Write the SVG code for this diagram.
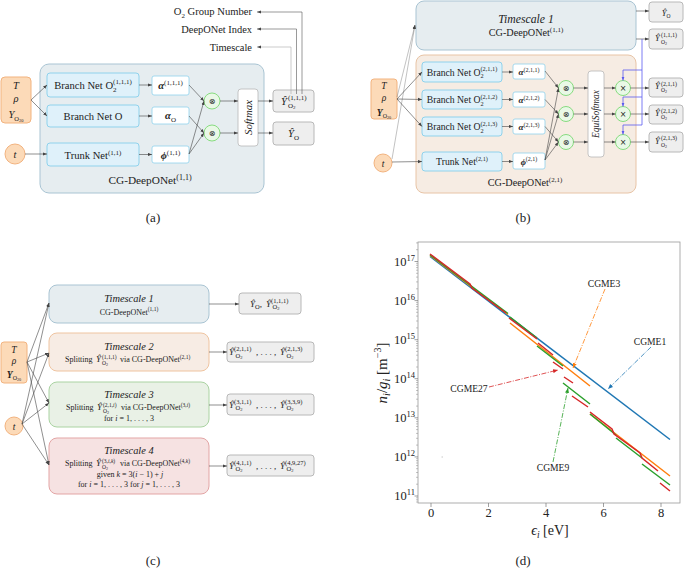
<svg xmlns="http://www.w3.org/2000/svg" width="685" height="569" viewBox="0 0 685 569">
<defs>
<style>
text{font-family:"Liberation Serif","DejaVu Serif",serif;fill:#222}
.c{text-anchor:middle}
.e{text-anchor:end}
.i{font-style:italic}
.bi{font-style:italic;font-weight:bold}
.cont{fill:#e6edf0;stroke:#a9c4d3;stroke-width:1}
.cont2{fill:#f6ece3;stroke:#e8c4a6;stroke-width:1}
.inp{fill:#fcdab8;stroke:#f2b37f;stroke-width:1}
.net{fill:#dff1fa;stroke:#8fd2ec;stroke-width:1}
.vec{fill:#fff;stroke:#8fd2ec;stroke-width:0.8}
.op{fill:#e9f8e6;stroke:#87dc80;stroke-width:1}
.sm{fill:#fff;stroke:#b8b8b8;stroke-width:0.8}
.out{fill:#eeeeee;stroke:#b8b8b8;stroke-width:1}
.ts2{fill:#f7ece4;stroke:#efc4a0;stroke-width:1}
.ts3{fill:#e9f1e6;stroke:#aad3a2;stroke-width:1}
.ts4{fill:#f6e2e2;stroke:#e3a5a5;stroke-width:1}
.cn{stroke:#444;stroke-width:0.6;fill:none;marker-end:url(#ah)}
.cnl{stroke:#666;stroke-width:0.4;fill:none;marker-end:url(#ah)}
.bl{stroke:#5a5af0;stroke-width:0.8;fill:none;marker-end:url(#ahb)}
.opt{font-family:"DejaVu Sans",sans-serif;font-size:8px;text-anchor:middle}
.cur{fill:none;stroke-width:1.5}
.ann{fill:none;stroke-width:0.8;stroke-dasharray:5,1.5,1,1.5}
.tk{font-size:12.5px}
</style>
<marker id="ah" markerUnits="userSpaceOnUse" viewBox="0 0 6 6" refX="6" refY="3" markerWidth="4" markerHeight="4" orient="auto"><path d="M0,0.6L6,3L0,5.4z" fill="#444"/></marker>
<marker id="ahb" markerUnits="userSpaceOnUse" viewBox="0 0 6 6" refX="6" refY="3" markerWidth="4" markerHeight="4" orient="auto"><path d="M0,0.6L6,3L0,5.4z" fill="#5a5af0"/></marker>
<marker id="ahB" markerUnits="userSpaceOnUse" viewBox="0 0 6 6" refX="6" refY="3" markerWidth="5" markerHeight="5" orient="auto"><path d="M0,0.6L6,3L0,5.4z" fill="#1f77b4"/></marker>
<marker id="ahO" markerUnits="userSpaceOnUse" viewBox="0 0 6 6" refX="6" refY="3" markerWidth="5" markerHeight="5" orient="auto"><path d="M0,0.6L6,3L0,5.4z" fill="#ff7f0e"/></marker>
<marker id="ahG" markerUnits="userSpaceOnUse" viewBox="0 0 6 6" refX="6" refY="3" markerWidth="5" markerHeight="5" orient="auto"><path d="M0,0.6L6,3L0,5.4z" fill="#2ca02c"/></marker>
<marker id="ahR" markerUnits="userSpaceOnUse" viewBox="0 0 6 6" refX="6" refY="3" markerWidth="5" markerHeight="5" orient="auto"><path d="M0,0.6L6,3L0,5.4z" fill="#d62728"/></marker>
</defs>
<rect width="685" height="569" fill="#fff"/>

<!-- ================= PANEL A ================= -->
<g id="a-container">
<rect class="cont" x="40" y="64" width="224" height="129" rx="9"/>
<text class="c" x="150" y="184" font-size="11.3">CG-DeepONet<tspan font-size="8" dy="-4.5">(1,1)</tspan></text>
</g>
<g id="a-input">
<rect class="inp" x="1" y="77" width="30" height="46" rx="4"/>
<text class="c i" x="16" y="89" font-size="10.5">T</text>
<text class="c i" x="16" y="102" font-size="10.5">ρ</text>
<text class="c" x="16" y="118" font-size="10.5"><tspan class="i">Y</tspan><tspan font-size="6.5" dy="2.5">O</tspan><tspan font-size="4.5" dy="1">20</tspan></text>
</g>
<g id="a-t"><circle class="inp" cx="15" cy="154" r="10"/><text class="c i" x="15" y="157.5" font-size="10.5">t</text></g>
<g id="a-branch-o2"><rect class="net" x="47" y="73" width="92" height="24" rx="3"/>
<text class="c" x="93" y="89" font-size="10.6">Branch Net O<tspan font-size="7" dy="2.5">2</tspan><tspan font-size="7" dx="-3.5" dy="-7.5">(1,1,1)</tspan></text></g>
<g id="a-branch-o"><rect class="net" x="47" y="105" width="92" height="22" rx="3"/>
<text class="c" x="93" y="120" font-size="10.6">Branch Net O</text></g>
<g id="a-trunk"><rect class="net" x="47" y="143" width="92" height="23" rx="3"/>
<text class="c" x="93" y="158.5" font-size="10.6">Trunk Net<tspan font-size="7" dy="-4">(1,1)</tspan></text></g>
<g id="a-alpha1"><rect class="vec" x="152" y="76" width="37" height="19" rx="2"/>
<text class="c" x="170.5" y="89"><tspan class="bi" font-size="10.5">α</tspan><tspan font-size="7" dy="-4">(1,1,1)</tspan></text></g>
<g id="a-alphaO"><rect class="vec" x="152" y="107" width="37" height="17" rx="2"/>
<text class="c" x="170.5" y="119"><tspan class="bi" font-size="10.5">α</tspan><tspan font-size="7" dy="2.5">O</tspan></text></g>
<g id="a-phi"><rect class="vec" x="152" y="146" width="37" height="17" rx="2"/>
<text class="c" x="170.5" y="158.5"><tspan class="bi" font-size="10.5">ϕ</tspan><tspan font-size="7" dy="-4">(1,1)</tspan></text></g>
<g id="a-op1"><circle class="op" cx="212" cy="101" r="8"/><text class="opt" x="212" y="104">⊗</text></g>
<g id="a-op2"><circle class="op" cx="212" cy="133" r="8"/><text class="opt" x="212" y="136">⊗</text></g>
<g id="a-softmax"><rect class="sm" x="238" y="89" width="20" height="57" rx="3"/>
<text class="c i" transform="translate(251.5,117.5) rotate(-90)" font-size="10.9">Softmax</text></g>
<g id="a-out-o2"><rect class="out" x="273" y="90" width="41" height="22" rx="3"/>
<text y="104.5" font-size="10.6"><tspan x="281" class="i">Ŷ</tspan><tspan x="288" font-size="7" dy="-4.5">(1,1,1)</tspan><tspan x="288" font-size="7" dy="7.5">O</tspan><tspan font-size="5" dy="1.5">2</tspan></text></g>
<g id="a-out-o"><rect class="out" x="273" y="122" width="41" height="23" rx="3"/>
<text class="c" x="293.5" y="137" font-size="10.6"><tspan class="i">Ŷ</tspan><tspan font-size="7" dy="2.5">O</tspan></text></g>
<g id="a-labels">
<text class="e" x="252" y="15" font-size="10.6">O<tspan font-size="7" dy="2.5">2</tspan><tspan dy="-2.5"> Group Number</tspan></text>
<text class="e" x="252" y="32.5" font-size="10.4">DeepONet Index</text>
<text class="e" x="252" y="50.5" font-size="10.4">Timescale</text>
</g>
<g id="a-connectors">
<path class="cn" d="M31,100L47,85"/>
<path class="cn" d="M31,100L47,116"/>
<path class="cn" d="M25,154L47,154"/>
<path class="cn" d="M139,85L152,85"/>
<path class="cn" d="M139,116L152,116"/>
<path class="cn" d="M139,154.5L152,154.5"/>
<path class="cn" d="M189,85L204,101"/>
<path class="cn" d="M189,116L204,133"/>
<path class="cn" d="M189,154L204,101"/>
<path class="cn" d="M189,154L204,133"/>
<path class="cn" d="M220,101L238,101"/>
<path class="cn" d="M220,133L238,133"/>
<path class="cn" d="M258,101L273,101"/>
<path class="cn" d="M258,133L273,133"/>
<path class="cn" style="stroke:#555" d="M302,94V12H257"/>
<path class="cn" style="stroke:#555" d="M296.5,94V29H257"/>
<path class="cn" style="stroke:#aaa" d="M291,94V47H257"/>
</g>
<text class="c" x="153" y="222" font-size="13">(a)</text>

<!-- ================= PANEL B ================= -->
<g id="b-timescale1">
<rect class="cont" x="416" y="1" width="220" height="49" rx="8"/>
<text class="c i" x="526" y="23" font-size="11.7">Timescale 1</text>
<text class="c" x="526" y="36" font-size="10.2">CG-DeepONet<tspan font-size="7" dy="-4">(1,1)</tspan></text>
</g>
<g id="b-container">
<rect class="cont2" x="416" y="55" width="220" height="138" rx="8"/>
<text class="c" x="525" y="186" font-size="10.2">CG-DeepONet<tspan font-size="7" dy="-4">(2,1)</tspan></text>
</g>
<g id="b-input">
<rect class="inp" x="371" y="79" width="26" height="40" rx="3"/>
<text class="c i" x="384" y="89" font-size="9.5">T</text>
<text class="c i" x="384" y="101" font-size="9.5">ρ</text>
<text class="c" x="384" y="115.5" font-size="9.5"><tspan class="bi">Y</tspan><tspan font-size="6" dy="2.5">O</tspan><tspan font-size="4.2" dy="1">20</tspan></text>
</g>
<g id="b-t"><circle class="inp" cx="383" cy="163" r="9"/><text class="c i" x="383" y="166.5" font-size="9.5">t</text></g>
<g id="b-branch1"><rect class="net" x="422" y="62" width="80" height="20" rx="3"/>
<text class="c" x="462" y="75.5" font-size="9.7">Branch Net O<tspan font-size="6.3" dy="2.5">2</tspan><tspan font-size="6.3" dx="-3.2" dy="-7">(2,1,1)</tspan></text></g>
<g id="b-branch2"><rect class="net" x="422" y="90" width="80" height="19" rx="3"/>
<text class="c" x="462" y="103" font-size="9.7">Branch Net O<tspan font-size="6.3" dy="2.5">2</tspan><tspan font-size="6.3" dx="-3.2" dy="-7">(2,1,2)</tspan></text></g>
<g id="b-branch3"><rect class="net" x="422" y="117" width="80" height="19" rx="3"/>
<text class="c" x="462" y="130" font-size="9.7">Branch Net O<tspan font-size="6.3" dy="2.5">2</tspan><tspan font-size="6.3" dx="-3.2" dy="-7">(2,1,3)</tspan></text></g>
<g id="b-trunk"><rect class="net" x="422" y="152" width="80" height="19" rx="3"/>
<text class="c" x="462" y="165" font-size="9.7">Trunk Net<tspan font-size="6.3" dy="-4">(2,1)</tspan></text></g>
<g id="b-alpha1"><rect class="vec" x="513" y="64" width="32" height="15" rx="2"/>
<text class="c" x="529" y="75"><tspan class="bi" font-size="9">α</tspan><tspan font-size="6" dy="-3.5">(2,1,1)</tspan></text></g>
<g id="b-alpha2"><rect class="vec" x="513" y="92" width="32" height="15" rx="2"/>
<text class="c" x="529" y="103"><tspan class="bi" font-size="9">α</tspan><tspan font-size="6" dy="-3.5">(2,1,2)</tspan></text></g>
<g id="b-alpha3"><rect class="vec" x="513" y="119" width="32" height="15" rx="2"/>
<text class="c" x="529" y="130"><tspan class="bi" font-size="9">α</tspan><tspan font-size="6" dy="-3.5">(2,1,3)</tspan></text></g>
<g id="b-phi"><rect class="vec" x="513" y="153" width="32" height="16" rx="2"/>
<text class="c" x="529" y="164.5"><tspan class="bi" font-size="9">ϕ</tspan><tspan font-size="6" dy="-3.5">(2,1)</tspan></text></g>
<g id="b-op1"><circle class="op" cx="566" cy="88" r="7.5"/><text class="opt" x="566" y="90.8" font-size="7.5">⊗</text></g>
<g id="b-op2"><circle class="op" cx="566" cy="114" r="7.5"/><text class="opt" x="566" y="116.8" font-size="7.5">⊗</text></g>
<g id="b-op3"><circle class="op" cx="566" cy="142" r="7.5"/><text class="opt" x="566" y="144.8" font-size="7.5">⊗</text></g>
<g id="b-equisoftmax"><rect class="sm" x="588" y="71" width="16" height="86" rx="3"/>
<text class="c i" transform="translate(599,114) rotate(-90)" font-size="9.4">EquiSoftmax</text></g>
<g id="b-mul1"><circle class="op" cx="623" cy="88" r="7.5"/><text class="opt" x="623" y="90.8">×</text></g>
<g id="b-mul2"><circle class="op" cx="623" cy="114" r="7.5"/><text class="opt" x="623" y="116.8">×</text></g>
<g id="b-mul3"><circle class="op" cx="623" cy="142" r="7.5"/><text class="opt" x="623" y="144.8">×</text></g>
<g id="b-out-o"><rect class="out" x="649" y="2" width="34" height="20" rx="3"/>
<text class="c" x="666" y="15.5" font-size="8.5"><tspan class="i">Ŷ</tspan><tspan font-size="5.5" dy="2">O</tspan></text></g>
<g id="b-out-111"><rect class="out" x="649" y="29" width="34" height="20" rx="3"/>
<text y="40.5" font-size="8.5"><tspan x="655" class="i">Ŷ</tspan><tspan x="661" font-size="6" dy="-3.5">(1,1,1)</tspan><tspan x="661" font-size="5.5" dy="6.5">O</tspan><tspan font-size="4" dy="1">2</tspan></text></g>
<g id="b-out-211"><rect class="out" x="649" y="78" width="34" height="19" rx="3"/>
<text y="89" font-size="8.5"><tspan x="655" class="i">Ŷ</tspan><tspan x="661" font-size="6" dy="-3.5">(2,1,1)</tspan><tspan x="661" font-size="5.5" dy="6.5">O</tspan><tspan font-size="4" dy="1">2</tspan></text></g>
<g id="b-out-212"><rect class="out" x="649" y="105" width="34" height="19" rx="3"/>
<text y="116" font-size="8.5"><tspan x="655" class="i">Ŷ</tspan><tspan x="661" font-size="6" dy="-3.5">(2,1,2)</tspan><tspan x="661" font-size="5.5" dy="6.5">O</tspan><tspan font-size="4" dy="1">2</tspan></text></g>
<g id="b-out-213"><rect class="out" x="649" y="132" width="34" height="20" rx="3"/>
<text y="143.5" font-size="8.5"><tspan x="655" class="i">Ŷ</tspan><tspan x="661" font-size="6" dy="-3.5">(2,1,3)</tspan><tspan x="661" font-size="5.5" dy="6.5">O</tspan><tspan font-size="4" dy="1">2</tspan></text></g>
<g id="b-connectors">
<path class="cnl" d="M397,97L415,25"/>
<path class="cnl" d="M392,159L415,25"/>
<path class="cn" d="M397,99L422,72"/>
<path class="cn" d="M397,99L422,99.5"/>
<path class="cn" d="M397,99L422,126.5"/>
<path class="cn" d="M392,162L422,161.5"/>
<path class="cn" d="M502,72L513,72"/>
<path class="cn" d="M502,99.5L513,99.5"/>
<path class="cn" d="M502,126.5L513,126.5"/>
<path class="cn" d="M502,161.5L513,161.5"/>
<path class="cn" d="M545,71L558.5,88"/>
<path class="cn" d="M545,99.5L558.5,114"/>
<path class="cn" d="M545,126.5L558.5,142"/>
<path class="cn" d="M545,160L558.5,88"/>
<path class="cn" d="M545,160L558.5,114"/>
<path class="cn" d="M545,160L558.5,142"/>
<path class="cn" d="M573.5,88L588,88"/>
<path class="cn" d="M573.5,114L588,114"/>
<path class="cn" d="M573.5,142L588,142"/>
<path class="cn" d="M604,88L615.5,88"/>
<path class="cn" d="M604,114L615.5,114"/>
<path class="cn" d="M604,142L615.5,142"/>
<path class="cn" d="M630.5,88L649,88"/>
<path class="cn" d="M630.5,114L649,114"/>
<path class="cn" d="M630.5,142L649,142"/>
<path class="cn" d="M636,11L649,11"/>
<path class="cn" d="M636,39L649,39"/>
<path class="bl" style="marker-end:none" d="M642,39V125"/>
<path class="bl" d="M642,70H623V80.5"/>
<path class="bl" d="M642,97H623V106.5"/>
<path class="bl" d="M642,125H623V134.5"/>
</g>
<text class="c" x="523" y="222" font-size="13">(b)</text>

<!-- ================= PANEL C ================= -->
<g id="c-input">
<rect class="inp" x="1" y="342" width="26" height="41" rx="3"/>
<text class="c i" x="14" y="352.5" font-size="9.5">T</text>
<text class="c i" x="14" y="364" font-size="9.5">ρ</text>
<text class="c" x="14" y="377.5" font-size="9.5"><tspan class="bi">Y</tspan><tspan font-size="6" dy="2.5">O</tspan><tspan font-size="4.2" dy="1">20</tspan></text>
</g>
<g id="c-t"><circle class="inp" cx="14" cy="426" r="9"/><text class="c i" x="14" y="429.5" font-size="9.5">t</text></g>
<g id="c-ts1"><rect class="cont" x="49" y="285" width="160" height="38" rx="8"/>
<text class="c i" x="129" y="301.5" font-size="10.4">Timescale 1</text>
<text class="c" x="129" y="314.5" font-size="8">CG-DeepONet<tspan font-size="5.5" dy="-3.5">(1,1)</tspan></text></g>
<g id="c-ts2"><rect class="ts2" x="49" y="333" width="160" height="38" rx="8"/>
<text class="c i" x="129" y="350" font-size="10.4">Timescale 2</text>
<text y="362" font-size="8"><tspan x="65">Splitting</tspan><tspan x="96" class="i" font-size="9">Ŷ</tspan><tspan x="102" font-size="5.5" dy="-3.5">(1,1,1)</tspan><tspan x="102" font-size="5.5" dy="6">O</tspan><tspan font-size="4" dy="1">2</tspan><tspan x="120" dy="-3.5">via CG-DeepONet</tspan><tspan font-size="5.5" dy="-3.5">(2,1)</tspan></text></g>
<g id="c-ts3"><rect class="ts3" x="49" y="382" width="160" height="45" rx="8"/>
<text class="c i" x="129" y="398" font-size="10.4">Timescale 3</text>
<text y="410" font-size="8"><tspan x="66">Splitting</tspan><tspan x="97" class="i" font-size="9">Ŷ</tspan><tspan x="103" font-size="5.5" dy="-3.5">(2,1,<tspan class="i">i</tspan>)</tspan><tspan x="103" font-size="5.5" dy="6">O</tspan><tspan font-size="4" dy="1">2</tspan><tspan x="121" dy="-3.5">via CG-DeepONet</tspan><tspan font-size="5.5" dy="-3.5">(3,<tspan class="i">i</tspan>)</tspan></text>
<text class="c" x="129" y="420.5" font-size="8">for <tspan class="i">i</tspan> = 1, . . . , 3</text></g>
<g id="c-ts4"><rect class="ts4" x="49" y="438" width="160" height="56" rx="8"/>
<text class="c i" x="129" y="454" font-size="10.4">Timescale 4</text>
<text y="466" font-size="8"><tspan x="65">Splitting</tspan><tspan x="96" class="i" font-size="9">Ŷ</tspan><tspan x="102" font-size="5.5" dy="-3.5">(3,<tspan class="i">i</tspan>,<tspan class="i">k</tspan>)</tspan><tspan x="102" font-size="5.5" dy="6">O</tspan><tspan font-size="4" dy="1">2</tspan><tspan x="120" dy="-3.5">via CG-DeepONet</tspan><tspan font-size="5.5" dy="-3.5">(4,<tspan class="i">k</tspan>)</tspan></text>
<text class="c" x="130" y="476.5" font-size="8">given <tspan class="i">k</tspan> = 3(<tspan class="i">i</tspan> − 1) + <tspan class="i">j</tspan></text>
<text class="c" x="129" y="486.5" font-size="8">for <tspan class="i">i</tspan> = 1, . . . , 3 for <tspan class="i">j</tspan> = 1, . . . , 3</text></g>
<g id="c-out1"><rect class="out" x="239" y="293" width="62" height="21" rx="3"/>
<text y="306.5" font-size="9"><tspan x="250" class="i">Ŷ</tspan><tspan font-size="6.5" dy="2.5">O</tspan><tspan dy="-2.5">, </tspan><tspan x="266" class="i">Ŷ</tspan><tspan font-size="6.5" dy="-4">(1,1,1)</tspan><tspan x="272.5" font-size="6.5" dy="6.5">O</tspan><tspan font-size="4.5" dy="1">2</tspan></text></g>
<g id="c-out2"><rect class="out" x="227" y="342" width="87" height="20" rx="3"/>
<text y="355" font-size="9"><tspan x="229" class="i">Ŷ</tspan><tspan font-size="6.5" dy="-4">(2,1,1)</tspan><tspan x="235.5" font-size="6.5" dy="6.5">O</tspan><tspan font-size="4.5" dy="1">2</tspan><tspan x="256" dy="-3.5">, . . . , </tspan><tspan x="280" class="i">Ŷ</tspan><tspan font-size="6.5" dy="-4">(2,1,3)</tspan><tspan x="286.5" font-size="6.5" dy="6.5">O</tspan><tspan font-size="4.5" dy="1">2</tspan></text></g>
<g id="c-out3"><rect class="out" x="227" y="394" width="87" height="21" rx="3"/>
<text y="407.5" font-size="9"><tspan x="229" class="i">Ŷ</tspan><tspan font-size="6.5" dy="-4">(3,1,1)</tspan><tspan x="235.5" font-size="6.5" dy="6.5">O</tspan><tspan font-size="4.5" dy="1">2</tspan><tspan x="256" dy="-3.5">, . . . , </tspan><tspan x="280" class="i">Ŷ</tspan><tspan font-size="6.5" dy="-4">(3,3,9)</tspan><tspan x="286.5" font-size="6.5" dy="6.5">O</tspan><tspan font-size="4.5" dy="1">2</tspan></text></g>
<g id="c-out4"><rect class="out" x="227" y="455" width="87" height="21" rx="3"/>
<text y="468.5" font-size="9"><tspan x="229" class="i">Ŷ</tspan><tspan font-size="6.5" dy="-4">(4,1,1)</tspan><tspan x="235.5" font-size="6.5" dy="6.5">O</tspan><tspan font-size="4.5" dy="1">2</tspan><tspan x="256" dy="-3.5">, . . . , </tspan><tspan x="280" class="i">Ŷ</tspan><tspan font-size="6.5" dy="-4">(4,9,27)</tspan><tspan x="286.5" font-size="6.5" dy="6.5">O</tspan><tspan font-size="4.5" dy="1">2</tspan></text></g>
<g id="c-connectors">
<path class="cn" d="M27,362L49,303"/>
<path class="cn" d="M27,362L49,353"/>
<path class="cn" d="M27,362L49,403"/>
<path class="cn" d="M27,362L49,465"/>
<path class="cn" d="M22,424L49,303"/>
<path class="cn" d="M22,424L49,353"/>
<path class="cn" d="M22,424L49,403"/>
<path class="cn" d="M22,424L49,465"/>
<path class="cn" d="M209,304L239,304"/>
<path class="cn" d="M209,352L227,352"/>
<path class="cn" d="M209,405L227,405"/>
<path class="cn" d="M209,466L227,466"/>
</g>
<text class="c" x="153" y="565" font-size="13">(c)</text>

<!-- ================= PANEL D ================= -->
<g id="d-axes">
<rect x="418" y="242" width="262" height="261" fill="none" stroke="#999" stroke-width="0.8"/>
<path stroke="#777" stroke-width="0.7" fill="none" d="M414.5,261.5H418M414.5,300.6H418M414.5,339.7H418M414.5,378.7H418M414.5,417.8H418M414.5,456.9H418M414.5,496H418M431,503V507M488.5,503V507M546,503V507M603.5,503V507M661,503V507"/>
<path stroke="#888" stroke-width="0.5" fill="none" d="M416,502H418M416,499.8H418M416,497.8H418M416,484.2H418M416,477.3H418M416,472.5H418M416,468.7H418M416,465.6H418M416,463H418M416,460.7H418M416,458.7H418M416,445.1H418M416,438.3H418M416,433.4H418M416,429.6H418M416,426.5H418M416,423.9H418M416,421.6H418M416,419.6H418M416,406.1H418M416,399.2H418M416,394.3H418M416,390.5H418M416,387.4H418M416,384.8H418M416,382.5H418M416,380.5H418M416,367H418M416,360.1H418M416,355.2H418M416,351.4H418M416,348.3H418M416,345.7H418M416,343.5H418M416,341.5H418M416,327.9H418M416,321H418M416,316.1H418M416,312.3H418M416,309.3H418M416,306.6H418M416,304.4H418M416,302.4H418M416,288.8H418M416,281.9H418M416,277.1H418M416,273.3H418M416,270.2H418M416,267.6H418M416,265.3H418M416,263.3H418M416,249.7H418M416,242.9H418"/>
<text class="e tk" x="415" y="266">10<tspan font-size="8.5" dy="-5">17</tspan></text>
<text class="e tk" x="415" y="305">10<tspan font-size="8.5" dy="-5">16</tspan></text>
<text class="e tk" x="415" y="344">10<tspan font-size="8.5" dy="-5">15</tspan></text>
<text class="e tk" x="415" y="383">10<tspan font-size="8.5" dy="-5">14</tspan></text>
<text class="e tk" x="415" y="422">10<tspan font-size="8.5" dy="-5">13</tspan></text>
<text class="e tk" x="415" y="461">10<tspan font-size="8.5" dy="-5">12</tspan></text>
<text class="e tk" x="415" y="500">10<tspan font-size="8.5" dy="-5">11</tspan></text>
<text class="c tk" x="431" y="517">0</text>
<text class="c tk" x="488.5" y="517">2</text>
<text class="c tk" x="546" y="517">4</text>
<text class="c tk" x="603.5" y="517">6</text>
<text class="c tk" x="661" y="517">8</text>
<text class="c" x="550" y="535" font-size="14"><tspan class="i">ϵ</tspan><tspan class="i" font-size="9.5" dy="3">i</tspan><tspan dy="-3"> [eV]</tspan></text>
<text class="c" transform="translate(387,373) rotate(-90)" font-size="15"><tspan class="i">n</tspan><tspan class="i" font-size="10" dy="3">i</tspan><tspan dy="-3">/</tspan><tspan class="i">g</tspan><tspan class="i" font-size="10" dy="3">i</tspan><tspan dy="-3"> [m</tspan><tspan font-size="10" dy="-6">−3</tspan><tspan dy="6">]</tspan></text>
<path d="M441.5,457H443" stroke="#bbb" stroke-width="0.8"/>
</g>
<g id="d-curves">
<path class="cur" stroke="#1f77b4" d="M430,256.5L670,439.5"/>
<path class="cur" stroke="#ff7f0e" d="M430,255.5L508,314.5M510,323L590,386M590,414L670,476"/>
<path class="cur" stroke="#2ca02c" d="M430,255L508,313.5M510,317L537,338M537,346L563,366M563,383L590,404M590,414L616,435M616,438L642,458M642,464L670,485"/>
<path class="cur" stroke="#d62728" d="M430,254L470,284L472,288L506,313M509,318L537,339M538,343L553,355M553,362L563,369M564,377L573,383M572,396L588,407M590,412L612,429L614,434L640,453L642,458L658,471M660,483L670,491"/>
</g>
<g id="d-annotations">
<path class="ann" stroke="#ff7f0e" marker-end="url(#ahO)" d="M605,289L573,368"/>
<path class="ann" stroke="#1f77b4" marker-end="url(#ahB)" d="M651,347L608,389"/>
<path class="ann" stroke="#d62728" marker-end="url(#ahR)" d="M489,387L558,370"/>
<path class="ann" stroke="#2ca02c" marker-end="url(#ahG)" d="M553,462L568,388"/>
<text class="c" x="604" y="286.5" font-size="9.6">CGME3</text>
<text class="c" x="650" y="344.5" font-size="9.6">CGME1</text>
<text class="c" x="469" y="391.5" font-size="9.6">CGME27</text>
<text class="c" x="553" y="470.5" font-size="9.6">CGME9</text>
</g>
<text class="c" x="523" y="565" font-size="13">(d)</text>
</svg>
